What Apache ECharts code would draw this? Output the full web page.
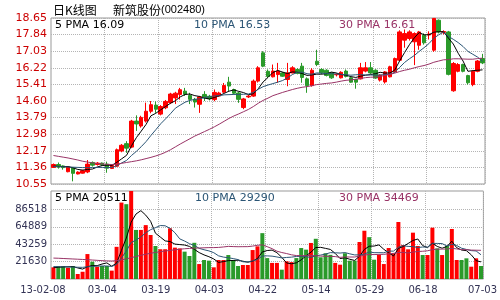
<!DOCTYPE html>
<html>
<head>
<meta charset="utf-8">
<script src="https://cdn.jsdelivr.net/npm/echarts@6/dist/echarts.min.js"></script>
<style>
html, body { margin: 0; padding: 0; background: #fff; }
#main { width: 500px; height: 300px; }
</style>
</head>
<body>
<div id="main"></div>
<script>
// tick labels
var priceTicks = [10.55, 11.36, 12.17, 12.98, 13.79, 14.60, 15.41, 16.22, 17.03, 17.84, 18.65];
var volTicks = [21630, 43259, 64889, 86518];
var dateLabels = ['13-02-08', '03-04', '03-19', '04-03', '04-22', '05-14', '05-29', '06-18', '07-03'];
var labelStep = 11; // one date label every 11 trading days

var priceLegend = ['5 PMA 16.09', '10 PMA 16.53', '30 PMA 16.61'];
var volLegend = ['5 PMA 20511', '10 PMA 29290', '30 PMA 34469'];

// daily candles
var opens = [11.36, 11.50, 11.43, 11.15, 11.34, 11.04, 11.08, 11.14, 11.60, 11.50,
  11.57, 11.52, 11.31, 11.42, 12.16, 12.52, 12.35, 13.62, 13.38, 13.62,
  14.10, 14.40, 13.96, 14.27, 14.52, 14.75, 14.92, 15.08, 14.87, 14.68,
  14.44, 14.92, 14.83, 14.67, 14.84, 15.03, 15.52, 15.16, 14.99, 14.28,
  14.80, 14.84, 15.57, 16.95, 16.05, 15.78, 15.89, 15.97, 15.65, 15.97,
  16.14, 16.30, 15.68, 15.35, 16.54, 16.14, 16.10, 15.97, 15.88, 15.73,
  16.06, 15.73, 15.65, 15.68, 16.06, 16.22, 16.10, 15.62, 15.53, 15.78,
  16.02, 16.59, 17.57, 17.65, 17.49, 17.32, 17.81, 17.82, 17.08, 18.54,
  17.95, 17.97, 15.10, 16.05, 16.38, 15.84, 15.40, 16.05, 16.67];
var closes = [11.50, 11.38, 11.35, 11.39, 11.07, 11.13, 11.20, 11.52, 11.47, 11.57,
  11.48, 11.32, 11.46, 12.22, 12.44, 12.30, 13.62, 13.48, 13.80, 14.10,
  14.42, 14.20, 14.33, 14.58, 14.94, 14.98, 15.15, 14.93, 14.68, 14.55,
  14.80, 14.76, 14.71, 15.02, 14.99, 15.36, 15.33, 14.98, 14.68, 14.70,
  14.84, 15.57, 16.22, 16.30, 15.80, 16.06, 16.06, 15.81, 15.97, 16.22,
  15.95, 15.75, 15.35, 16.10, 16.38, 15.98, 15.85, 15.73, 15.90, 16.00,
  15.80, 15.52, 15.52, 16.22, 16.22, 15.97, 15.72, 15.86, 16.02, 16.27,
  16.67, 17.97, 17.89, 17.97, 17.89, 17.97, 17.44, 17.87, 18.63, 17.97,
  17.99, 15.90, 16.43, 16.38, 16.05, 15.49, 16.05, 16.55, 16.46];
var lows = [11.33, 11.30, 11.25, 11.12, 10.68, 11.02, 11.06, 11.08, 11.40, 11.45,
  11.44, 11.10, 11.28, 11.40, 12.10, 12.07, 12.30, 13.14, 13.30, 13.55,
  14.00, 14.02, 13.90, 14.20, 14.45, 14.45, 14.67, 14.85, 14.45, 14.28,
  14.02, 14.60, 14.63, 14.59, 14.80, 15.00, 15.08, 14.92, 14.51, 14.20,
  14.75, 14.80, 15.50, 16.25, 15.73, 15.75, 15.49, 15.78, 15.32, 15.95,
  15.90, 15.49, 15.00, 15.30, 16.30, 15.90, 15.80, 15.68, 15.80, 15.70,
  15.75, 15.49, 15.20, 15.65, 16.00, 15.92, 15.68, 15.55, 15.45, 15.75,
  15.98, 16.55, 17.20, 17.55, 16.35, 17.10, 17.35, 17.60, 17.00, 17.90,
  17.85, 15.85, 15.05, 16.00, 16.00, 15.40, 15.32, 16.00, 16.40];
var highs = [11.55, 11.60, 11.46, 11.41, 11.36, 11.17, 11.24, 11.72, 11.65, 11.62,
  11.60, 11.64, 11.49, 12.28, 12.50, 12.64, 13.68, 13.90, 13.88, 14.52,
  14.60, 14.58, 14.40, 14.65, 15.00, 15.05, 15.24, 15.24, 15.00, 14.75,
  14.85, 15.08, 14.90, 15.16, 15.05, 15.48, 15.78, 15.20, 15.05, 14.75,
  14.90, 15.65, 16.30, 17.03, 16.14, 16.38, 16.46, 16.02, 16.46, 16.30,
  16.20, 16.46, 15.75, 16.20, 17.10, 16.20, 16.15, 16.00, 15.95, 16.05,
  16.14, 15.78, 15.68, 16.46, 16.50, 16.50, 16.15, 15.90, 16.06, 16.32,
  16.72, 18.05, 18.09, 18.05, 17.95, 18.02, 17.90, 18.00, 18.65, 18.58,
  18.05, 18.02, 16.50, 16.45, 16.42, 15.88, 16.10, 16.60, 16.90];

// price moving averages
var ma5 = [11.42, 11.41, 11.40, 11.40, 11.34, 11.26, 11.23, 11.26, 11.28, 11.38,
  11.45, 11.47, 11.46, 11.61, 11.78, 11.95, 12.41, 12.81, 13.13, 13.46,
  13.88, 14.00, 14.17, 14.33, 14.49, 14.61, 14.80, 14.92, 14.94, 14.86,
  14.82, 14.74, 14.70, 14.77, 14.86, 14.97, 15.08, 15.14, 15.07, 15.01,
  14.91, 14.95, 15.20, 15.53, 15.75, 15.99, 16.09, 16.01, 15.94, 16.02,
  16.00, 15.94, 15.85, 15.87, 15.91, 15.91, 15.93, 16.01, 15.97, 15.89,
  15.86, 15.79, 15.75, 15.81, 15.86, 15.89, 15.93, 16.00, 15.96, 15.97,
  16.11, 16.56, 16.96, 17.35, 17.68, 17.94, 17.83, 17.83, 17.96, 17.98,
  17.98, 17.67, 17.38, 16.93, 16.55, 16.05, 16.08, 16.10, 16.12];
var ma10 = [11.40, 11.40, 11.39, 11.38, 11.37, 11.36, 11.35, 11.35, 11.35, 11.36,
  11.36, 11.35, 11.36, 11.44, 11.58, 11.70, 11.94, 12.14, 12.37, 12.62,
  12.92, 13.20, 13.49, 13.73, 13.98, 14.25, 14.40, 14.54, 14.63, 14.68,
  14.71, 14.77, 14.81, 14.85, 14.86, 14.90, 14.91, 14.92, 14.92, 14.93,
  14.94, 15.02, 15.17, 15.30, 15.38, 15.45, 15.52, 15.60, 15.73, 15.89,
  16.00, 16.01, 15.93, 15.91, 15.97, 15.96, 15.94, 15.93, 15.92, 15.90,
  15.88, 15.86, 15.88, 15.89, 15.87, 15.87, 15.86, 15.87, 15.89, 15.91,
  16.00, 16.24, 16.48, 16.66, 16.82, 17.02, 17.20, 17.40, 17.66, 17.83,
  17.96, 17.75, 17.61, 17.45, 17.26, 17.02, 16.88, 16.74, 16.53];
var ma30 = [11.94, 11.90, 11.86, 11.82, 11.77, 11.72, 11.66, 11.62, 11.58, 11.55,
  11.53, 11.51, 11.50, 11.52, 11.56, 11.60, 11.64, 11.68, 11.73, 11.79,
  11.85, 11.92, 12.00, 12.10, 12.22, 12.36, 12.50, 12.63, 12.76, 12.89,
  13.00, 13.11, 13.22, 13.34, 13.47, 13.61, 13.75, 13.87, 13.97, 14.08,
  14.19, 14.33, 14.49, 14.63, 14.74, 14.86, 14.94, 15.02, 15.09, 15.16,
  15.22, 15.27, 15.30, 15.35, 15.40, 15.43, 15.46, 15.48, 15.52, 15.57,
  15.61, 15.63, 15.66, 15.70, 15.74, 15.76, 15.77, 15.80, 15.85, 15.90,
  15.96, 16.04, 16.10, 16.15, 16.22, 16.28, 16.33, 16.40, 16.49, 16.55,
  16.61, 16.62, 16.66, 16.66, 16.65, 16.64, 16.64, 16.67, 16.69];

// volume and its moving averages
var vol = [14500, 16200, 16200, 14000, 16200, 6200, 9000, 31000, 21500, 15300,
  16200, 16200, 10400, 40000, 95000, 93000, 115000, 61000, 61000, 67000,
  54700, 41000, 37000, 37000, 63000, 39000, 38000, 34000, 28600, 45000,
  18600, 23600, 22800, 14500, 23600, 23600, 29800, 23600, 16200, 17400,
  17400, 36000, 40600, 57000, 26000, 20000, 20000, 11600, 22000, 21000,
  26000, 38500, 36500, 44800, 50000, 27000, 32000, 30000, 20000, 17800,
  32000, 22800, 22800, 46000, 60000, 52000, 24000, 30000, 18600, 38500,
  32000, 70900, 42300, 36900, 57600, 41000, 29800, 29800, 63800, 38100,
  29800, 41000, 62200, 23600, 23600, 25700, 15300, 25700, 16200];
var volMa5 = [14000, 14500, 15000, 15200, 15420, 13760, 12320, 15280, 16780, 16600,
  18600, 20040, 15920, 19620, 35560, 50920, 70680, 80800, 85000, 79400,
  71740, 56940, 52140, 47340, 46540, 43400, 42800, 42200, 40520, 36920,
  32840, 29960, 27720, 24900, 20620, 21620, 22860, 23020, 23360, 22120,
  20880, 22120, 25520, 33680, 35400, 35920, 32720, 26920, 19920, 18920,
  20120, 23820, 28800, 33360, 39160, 39360, 38060, 36760, 31800, 25360,
  26360, 24520, 23080, 28280, 36720, 40720, 40960, 42400, 36920, 32620,
  28620, 38000, 40460, 44120, 47940, 49740, 41520, 39020, 44400, 40500,
  38260, 40500, 46980, 38940, 36040, 35220, 30080, 22780, 21300];
var volMa10 = [15500, 15300, 15200, 15000, 14800, 14600, 14500, 15200, 15600, 16010,
  16180, 16180, 15600, 18200, 26080, 34760, 45360, 48360, 52310, 57480,
  61330, 63810, 66470, 66170, 62970, 57570, 49870, 47170, 43930, 41730,
  38120, 36380, 34960, 32710, 28770, 27230, 26410, 25370, 24130, 21370,
  21250, 22490, 24270, 28520, 28760, 28400, 27420, 26220, 26800, 27160,
  28020, 28270, 27860, 26640, 29040, 29740, 30940, 32780, 32580, 32260,
  32860, 31290, 29920, 30040, 31040, 33540, 32740, 32740, 32600, 34670,
  34670, 39480, 41430, 40520, 40280, 39180, 39760, 39740, 44260, 44220,
  44000, 41010, 43000, 41670, 38270, 36740, 35290, 34880, 30120];
var volMa30 = [26000, 25800, 25500, 25200, 24900, 24600, 24300, 24000, 23600, 23200,
  22800, 22500, 22300, 22800, 23800, 25000, 26500, 28000, 29500, 30800,
  32000, 33000, 34000, 34800, 35600, 36300, 37000, 37600, 38000, 38410,
  38540, 38790, 39010, 39030, 39270, 39850, 40550, 40300, 40120, 40190,
  40230, 40890, 41900, 42470, 40170, 37730, 34570, 32920, 31620, 30090,
  29130, 29050, 29030, 29290, 28860, 28460, 28260, 28120, 27840, 26930,
  27380, 27350, 27350, 28400, 29610, 30560, 30370, 30580, 30660, 31360,
  31850, 33010, 33070, 32400, 33450, 34150, 34480, 35090, 36480, 37050,
  37180, 37260, 38120, 37410, 36530, 36490, 35930, 35790, 35660];

// one category per trading day
var days = [];
for (var d = 0; d < closes.length; d++) days.push(String(d));

var upColor = '#ff0000';
var downColor = '#2a9a2a';
var maColors = ['#000000', '#2b5575', '#993366'];
var gridColor = '#b4b4b4';

var kData = [];
var volData = [];
for (var i = 0; i < days.length; i++) {
  kData.push([opens[i], closes[i], lows[i], highs[i]]);
  volData.push({
    value: vol[i],
    itemStyle: { color: closes[i] >= opens[i] ? upColor : downColor }
  });
}

function vLine(idx) {
  return idx > 0 && idx < days.length - 1 && idx % labelStep === 0;
}

function maLine(name, data, color, axis) {
  return {
    name: name,
    type: 'line',
    xAxisIndex: axis,
    yAxisIndex: axis,
    data: data,
    symbol: 'none',
    silent: true,
    z: 4,
    lineStyle: { width: 1, color: color }
  };
}

function plainText(txt, x, y, color, font) {
  return {
    type: 'text',
    x: x,
    y: y,
    z: 100,
    style: {
      text: txt,
      fill: color,
      font: font,
      verticalAlign: 'middle',
      textVerticalAlign: 'middle'
    }
  };
}

var legendFont = '11px "DejaVu Sans"';
var myChart = echarts.init(document.getElementById('main'));

myChart.setOption({
  animation: false,
  backgroundColor: '#ffffff',
  grid: [
    { left: 51, right: 15, top: 18, height: 166, show: true, borderColor: '#999', borderWidth: 1 },
    { left: 51, right: 15, top: 191, height: 88, show: true, borderColor: '#999', borderWidth: 1 }
  ],
  xAxis: [{
    type: 'category',
    gridIndex: 0,
    data: days,
    boundaryGap: true,
    axisLine: { show: false },
    axisTick: { show: false },
    axisLabel: { show: false },
    splitLine: { show: true, interval: vLine, lineStyle: { color: gridColor, type: 'dotted' } }
  }, {
    type: 'category',
    gridIndex: 1,
    data: days,
    boundaryGap: true,
    axisLine: { show: false },
    axisTick: { show: false },
    splitLine: { show: true, interval: vLine, lineStyle: { color: gridColor, type: 'dotted' } },
    axisLabel: {
      show: true,
      interval: function (idx) { return idx % labelStep === 0; },
      formatter: function (val) {
        var k = Number(val);
        var txt = dateLabels[k / labelStep];
        if (k === 0) return '{first|' + txt + '}';
        if (k === days.length - 1) return '{last|' + txt + '}';
        return '{mid|' + txt + '}';
      },
      rich: {
        first: { padding: [0, 21, 0, 0] },
        mid: { padding: [0, 9, 0, 0] },
        last: { padding: [0, 0, 0, 3] }
      },
      color: '#333355',
      fontFamily: 'DejaVu Sans',
      fontSize: 10,
      margin: 6
    }
  }],
  yAxis: [{
    type: 'value',
    gridIndex: 0,
    min: 10.55,
    max: 18.65,
    axisLine: { show: false },
    axisTick: { show: false, customValues: priceTicks },
    axisLabel: {
      customValues: priceTicks,
      formatter: function (v) { return v.toFixed(2); },
      color: '#cc0000',
      fontFamily: 'DejaVu Sans',
      fontSize: 11,
      margin: 4
    },
    splitLine: { show: true, lineStyle: { color: gridColor, type: 'dotted' } }
  }, {
    type: 'value',
    gridIndex: 1,
    min: 0,
    max: 109400,
    axisLine: { show: false },
    axisTick: { show: false, customValues: volTicks },
    axisLabel: {
      customValues: volTicks,
      formatter: function (v) { return String(v); },
      color: '#333355',
      fontFamily: 'DejaVu Sans',
      fontSize: 10,
      margin: 4
    },
    splitLine: { show: true, lineStyle: { color: gridColor, type: 'dotted' } }
  }],
  series: [{
    name: 'K',
    type: 'candlestick',
    xAxisIndex: 0,
    yAxisIndex: 0,
    data: kData,
    barWidth: 4,
    itemStyle: {
      color: upColor,
      color0: downColor,
      borderColor: upColor,
      borderColor0: downColor,
      borderWidth: 1
    }
  },
  maLine('MA5', ma5, maColors[0], 0),
  maLine('MA10', ma10, maColors[1], 0),
  maLine('MA30', ma30, maColors[2], 0),
  {
    name: 'VOL',
    type: 'bar',
    xAxisIndex: 1,
    yAxisIndex: 1,
    data: volData,
    barWidth: 4
  },
  maLine('VMA5', volMa5, maColors[0], 1),
  maLine('VMA10', volMa10, maColors[1], 1),
  maLine('VMA30', volMa30, maColors[2], 1)
  ],
  graphic: [
    plainText('日K线图', 53, 10, '#000', '12px "Noto Sans CJK SC"'),
    plainText('新筑股份', 113, 10, '#000', '12px "Noto Sans CJK SC"'),
    plainText('(002480)', 161, 10, '#000', '11px "Liberation Sans"'),
    plainText(priceLegend[0], 55, 25, maColors[0], legendFont),
    plainText(priceLegend[1], 194, 25, maColors[1], legendFont),
    plainText(priceLegend[2], 339, 25, maColors[2], legendFont),
    plainText(volLegend[0], 55, 198, maColors[0], legendFont),
    plainText(volLegend[1], 195, 198, maColors[1], legendFont),
    plainText(volLegend[2], 339, 198, maColors[2], legendFont)
  ]
});
</script>
</body>
</html>
